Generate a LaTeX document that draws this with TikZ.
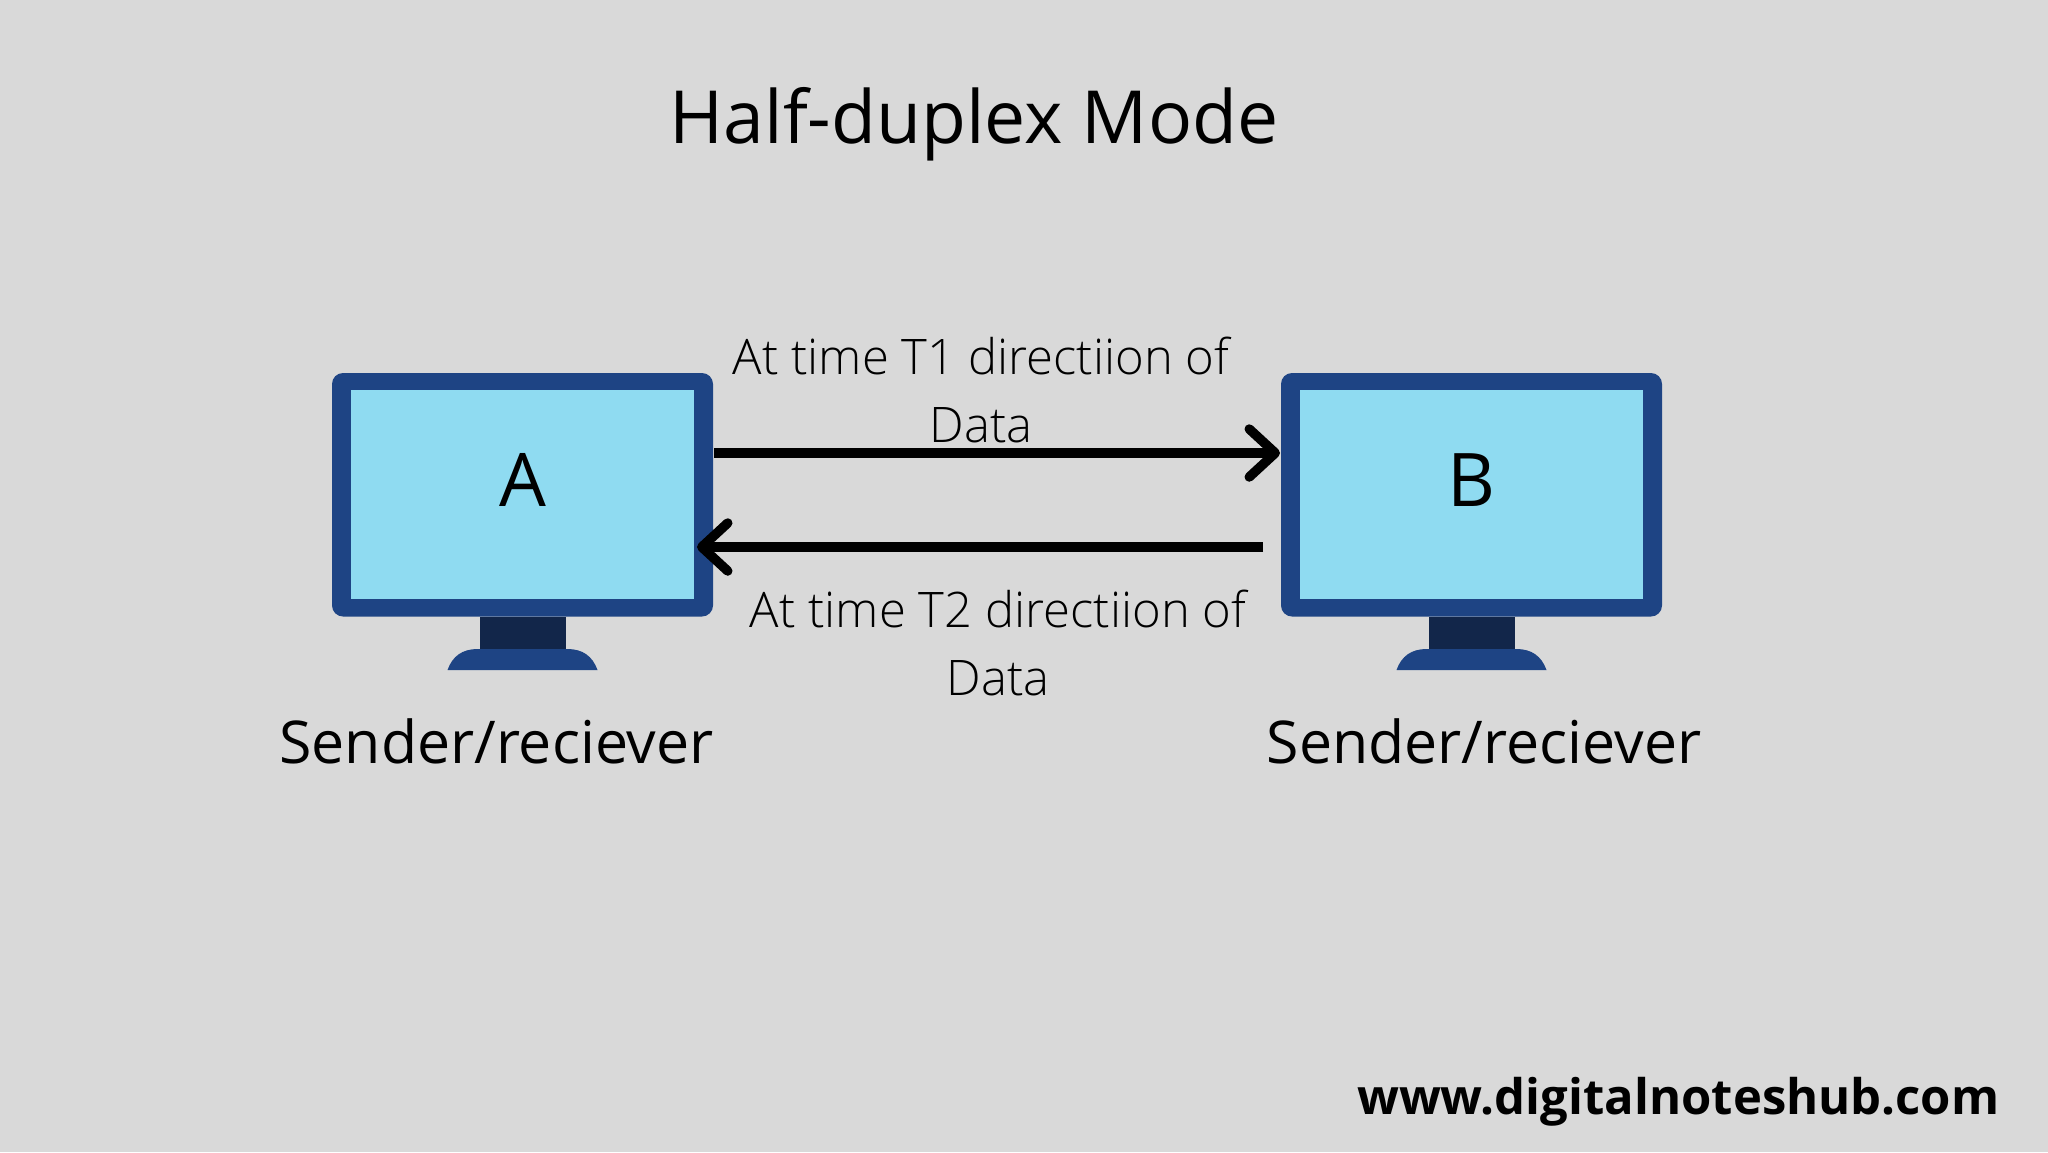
\documentclass[tikz,border=0pt]{standalone}
\usepackage{fontspec}
\setmainfont{Open Sans}
\newfontfamily\lightfont{Open Sans Light}
\usetikzlibrary{arrows.meta}

\definecolor{slate}{HTML}{D9D9D9}
\definecolor{frameblue}{HTML}{1E4484}
\definecolor{screenblue}{HTML}{8FDBF1}
\definecolor{standblue}{HTML}{12264A}

\tikzset{
  link/.style={line width=9.5pt, -{Straight Barb[round, length=26pt, width=48pt]}},
  caption/.style={font=\fontsize{59}{62}\selectfont, anchor=base},
  timelabel/.style={font=\lightfont\fontsize{49}{68}\selectfont, align=center, anchor=center}
}

\begin{document}
\begin{tikzpicture}[x=1pt, y=-1pt]
  % Background fixes the page size
  \fill[slate] (0,0) rectangle (2048,1152);

  \node[anchor=base, font=\fontsize{73.3}{75}\selectfont] (title) at (974,143) {Half-duplex Mode};

  % Draw the two monitors
  \foreach \name/\cx in {A/522.5, B/1471.5} {
    \fill[frameblue, rounded corners=11pt] (\cx-190.5,373) rectangle (\cx+190.5,616.5);
    \fill[screenblue] (\cx-171.5,390) rectangle (\cx+171.5,598.5);
    \fill[standblue] (\cx-43,616.5) rectangle (\cx+43,650);
    \fill[frameblue] (\cx-75,670) .. controls (\cx-70,656) and (\cx-60,649) .. (\cx-45,649)
      -- (\cx+45,649) .. controls (\cx+60,649) and (\cx+70,656) .. (\cx+75,670) -- cycle;
    \node[anchor=base, font=\fontsize{74}{76}\selectfont] (screen\name) at (\cx,506) {\name};
  }

  % Labels under the monitors
  \node[caption] (senderA) at (496.5,763) {Sender/reciever};
  \node[caption] (senderB) at (1484,763) {Sender/reciever};

  % Arrow ends
  \coordinate (startA) at (714,453);
  \coordinate (endB) at (1280,453);
  \coordinate (startB) at (1263,547);
  \coordinate (endA) at (697,547);

  \draw[link] (startA) -- (endB);
  \draw[link] (startB) -- (endA);

  \node[timelabel] (timeone) at (981,389.5) {At time T1 directiion of\\Data};
  \node[timelabel] (timetwo) at (998,643) {At time T2 directiion of\\Data};

  \node[anchor=base east, font=\bfseries\fontsize{49}{52}\selectfont] (site) at (2003,1114) {www.digitalnoteshub.com};
\end{tikzpicture}
\end{document}
